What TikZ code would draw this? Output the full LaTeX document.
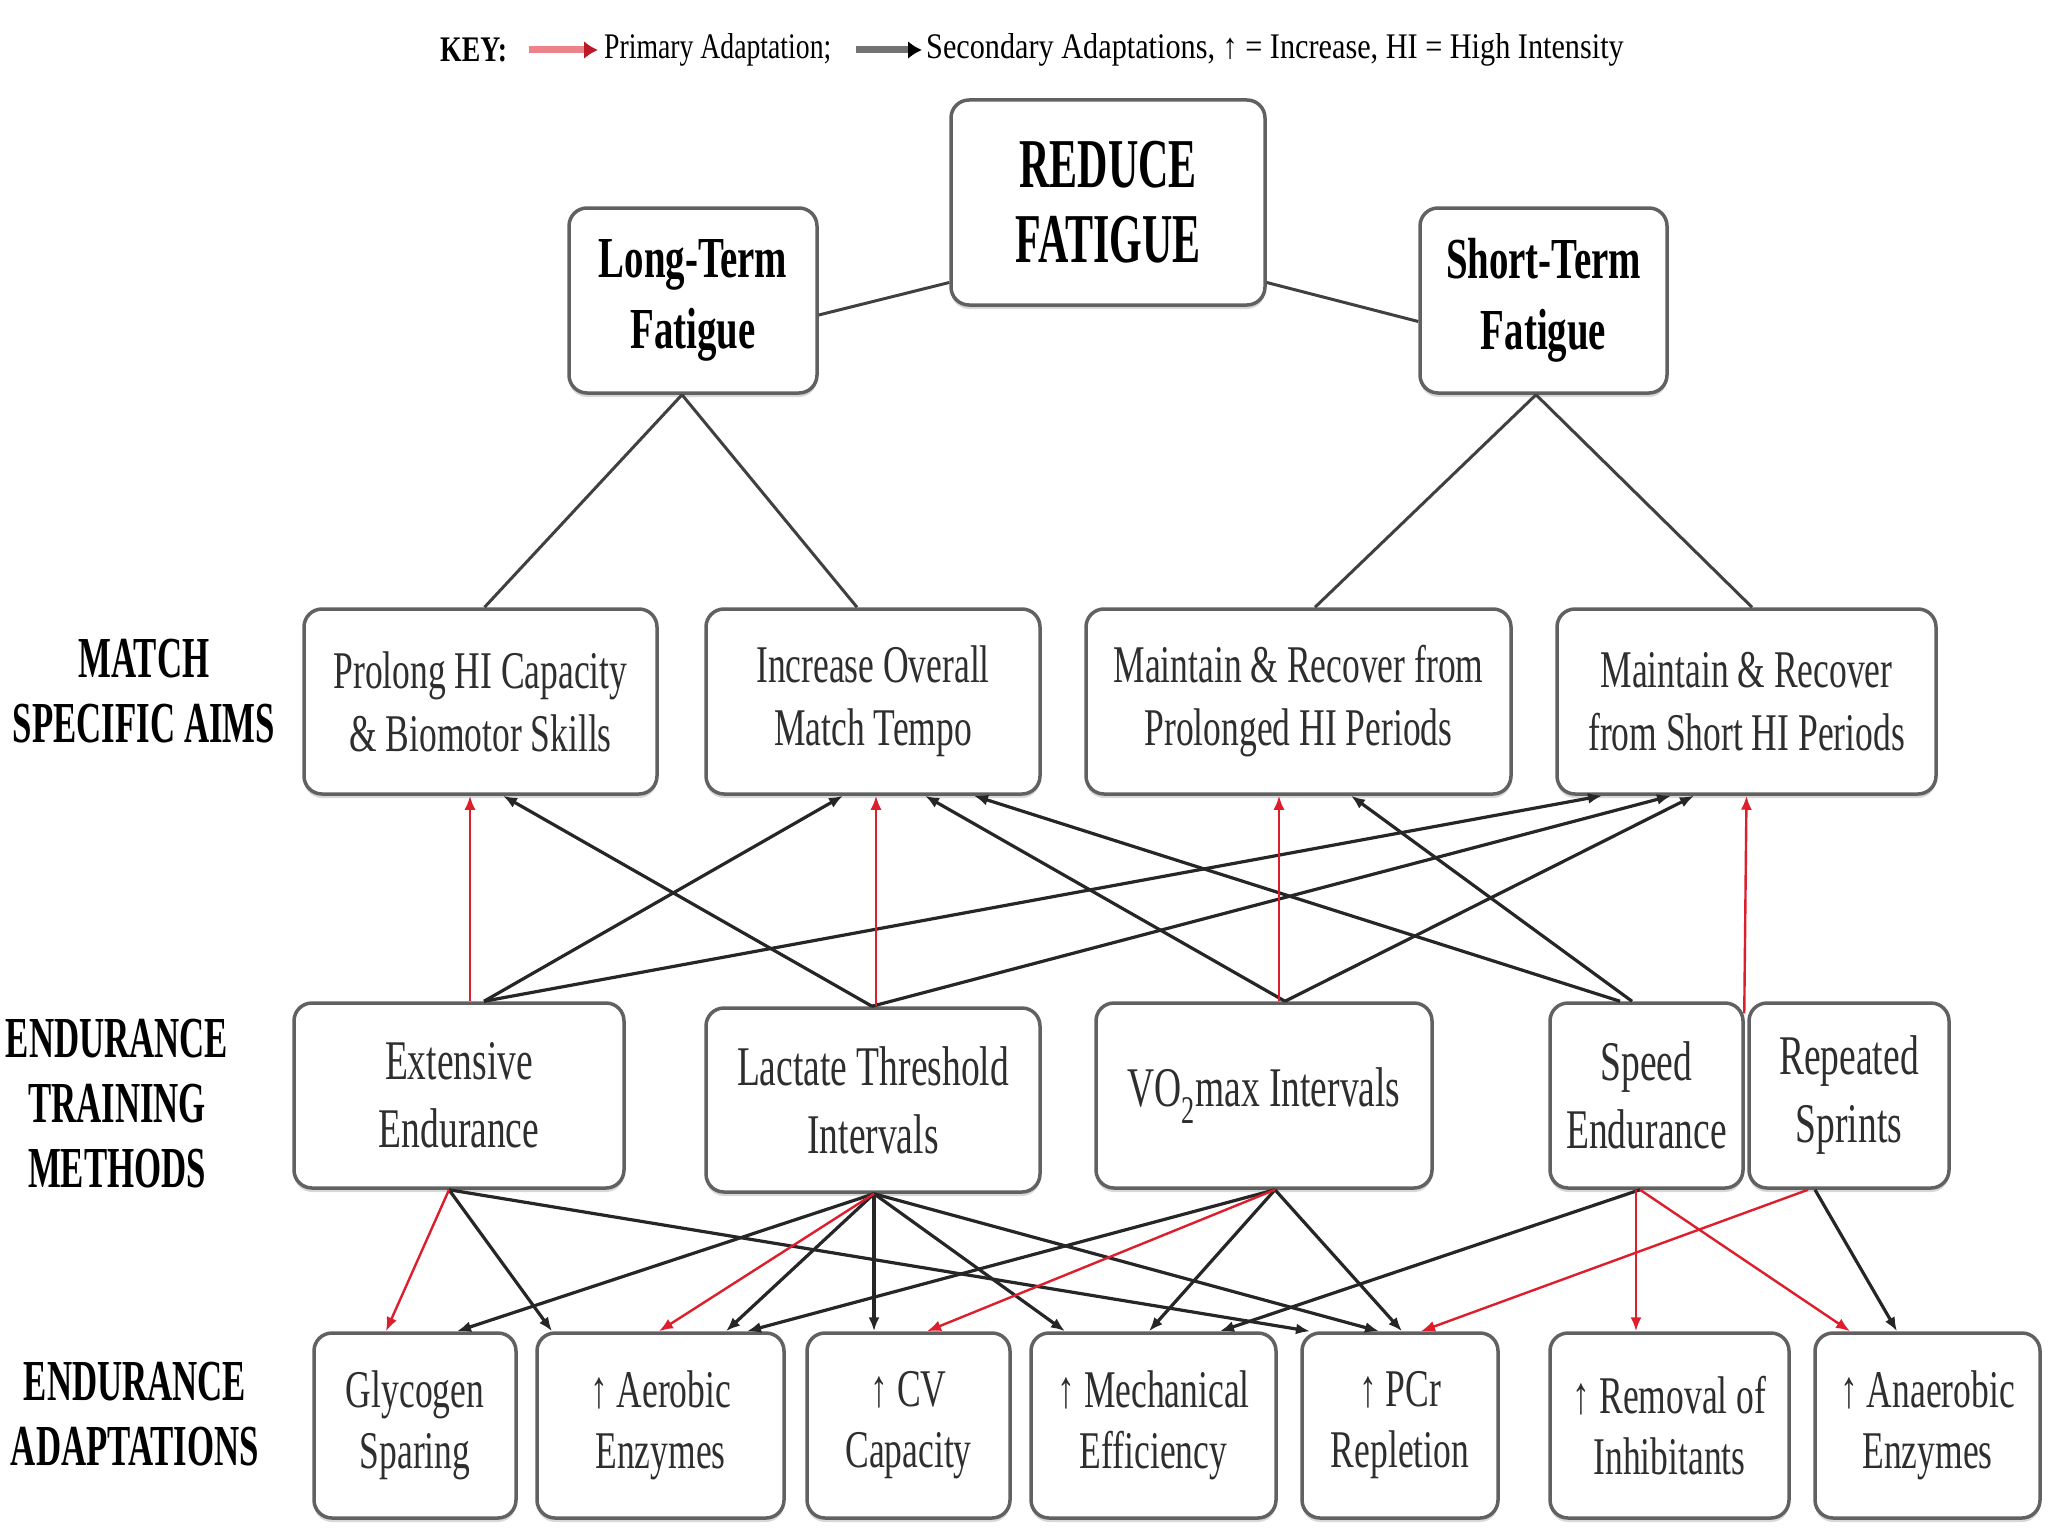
\documentclass[tikz,border=0pt]{standalone}
\usepackage{fontspec}
\setmainfont{Liberation Serif}[FakeStretch=0.67]
\newfontfamily\narrowfont{Liberation Serif}[FakeStretch=0.6]
\newfontfamily\keyfont{Liberation Serif}[FakeStretch=0.84]
\newfontfamily\keyfontb{Liberation Serif}[FakeStretch=0.77]
\usetikzlibrary{arrows.meta,shadows}
\definecolor{pred}{RGB}{220,30,45}
\begin{document}
\begin{tikzpicture}[x=1pt,y=-1pt,
  box/.style={draw=black!62, line width=3.5pt, rounded corners=18pt, fill=white, inner sep=0pt,
    align=center, text=black!82, drop shadow={shadow xshift=0pt, shadow yshift=-4pt, opacity=0.3}},
  r2/.style={box, font=\fontsize{53}{63}\selectfont, minimum height=185pt},
  r3/.style={box, font=\fontsize{56}{68}\selectfont, minimum height=185pt},
  r4/.style={box, font=\fontsize{53}{61}\selectfont, minimum height=185pt},
  topb/.style={box, font=\bfseries\fontsize{58}{71}\selectfont, text=black, minimum height=185pt},
  rowlbl/.style={font=\narrowfont\bfseries\fontsize{58}{65}\selectfont, align=center, inner sep=0pt},
  sec/.style={-{Latex[length=14pt,width=11pt]}, line width=3.2pt, draw=black!85},
  pri/.style={-{Latex[length=14pt,width=11pt]}, line width=2.4pt, draw=pred},
  link/.style={line width=3pt, draw=black!75},
  keytxt/.style={font=\keyfont\fontsize{36}{40}\selectfont, inner sep=0pt, anchor=west}
]
\fill[white] (0,0) rectangle (2048,1536);
\useasboundingbox (0,0) rectangle (2048,1536);

% key
\node[keytxt, font=\keyfontb\bfseries\fontsize{36}{40}\selectfont] (keylbl) at (440,50) {KEY:};
\coordinate (kr1) at (529,50); \coordinate (kr2) at (598,50);
\node[keytxt, font=\keyfontb\fontsize{36}{40}\selectfont] (keyp) at (604,50) {Primary Adaptation;};
\coordinate (kb1) at (856,50); \coordinate (kb2) at (922,50);
\node[keytxt] (keys) at (926,50) {Secondary Adaptations, ↑ = Increase, HI = High Intensity};
\draw[line width=7pt, draw=pred!55, -{Latex[length=14pt,width=18pt,color=pred!85!black]}] (kr1) -- (kr2);
\draw[line width=7pt, draw=black!55, -{Latex[length=14pt,width=18pt,color=black]}] (kb1) -- (kb2);

% top
\node[box, font=\narrowfont\bfseries\fontsize{70}{75}\selectfont, text=black, minimum width=314pt, minimum height=205pt] (reduce) at (1108,202.5) {REDUCE\\FATIGUE};
\node[topb, minimum width=248pt] (longt) at (693,300.5) {Long-Term\\Fatigue};
\node[topb, minimum width=247pt] (shortt) at (1543.5,300.5) {Short-Term\\Fatigue};

% row labels
\node[rowlbl] (lblA) at (144,691) {MATCH\\SPECIFIC AIMS};
\node[rowlbl] (lblB) at (117,1104) {ENDURANCE\\TRAINING\\METHODS};
\node[rowlbl] (lblC) at (135,1414) {ENDURANCE\\ADAPTATIONS};

% row 2
\node[r2, minimum width=353pt] (prolong) at (480.5,701.5) {Prolong HI Capacity\\\& Biomotor Skills};
\node[r2, minimum width=334pt] (increase) at (873,701.5) {Increase Overall\\Match Tempo};
\node[r2, minimum width=425pt] (maintp) at (1298.5,701.5) {Maintain \& Recover from\\Prolonged HI Periods};
\node[r2, minimum width=379pt] (maints) at (1746.5,701.5) {Maintain \& Recover\\from Short HI Periods};

% row 3
\node[r3, minimum width=330pt] (extensive) at (459,1095.5) {Extensive\\Endurance};
\node[r3, minimum width=334pt, minimum height=184pt] (lactate) at (873,1100) {Lactate Threshold\\Intervals};
\node[r3, minimum width=336pt] (vo2) at (1264,1095.5) {VO\textsubscript{2}max Intervals};
\node[r3, minimum width=193pt] (speed) at (1646.5,1095.5) {Speed\\Endurance};
\node[r3, minimum width=200pt] (repeated) at (1849,1095.5) {Repeated\\Sprints};

% row 4
\node[r4, minimum width=202pt] (glyc) at (415,1425.5) {Glycogen\\Sparing};
\node[r4, minimum width=247pt] (aerobic) at (660.5,1425.5) {↑ Aerobic\\Enzymes};
\node[r4, minimum width=203pt] (cv) at (908.5,1425.5) {↑ CV\\Capacity};
\node[r4, minimum width=245pt] (mech) at (1153.5,1425.5) {↑ Mechanical\\Efficiency};
\node[r4, minimum width=196pt] (pcr) at (1400,1425.5) {↑ PCr\\Repletion};
\node[r4, minimum width=239pt] (removal) at (1669.5,1425.5) {↑ Removal of\\Inhibitants};
\node[r4, minimum width=225pt] (anaer) at (1927.5,1425.5) {↑ Anaerobic\\Enzymes};

% top links
\draw[link] ([yshift=-80pt]reduce.west) -- ([yshift=-14.5pt]longt.east);
\draw[link] ([yshift=-80pt]reduce.east) -- ([yshift=-21pt]shortt.west);
\draw[link] ([xshift=-11pt]longt.south) -- ([xshift=4pt]prolong.north);
\draw[link] ([xshift=-11pt]longt.south) -- ([xshift=-16pt]increase.north);
\draw[link] ([xshift=-7.5pt]shortt.south) -- ([xshift=16.5pt]maintp.north);
\draw[link] ([xshift=-7.5pt]shortt.south) -- ([xshift=5.5pt]maints.north);

% methods -> aims
\draw[sec] ([xshift=-1pt]lactate.north) -- ([xshift=22.5pt]prolong.south);
\draw[sec] ([xshift=25pt]extensive.north) -- ([xshift=-30pt]increase.south);
\draw[sec] ([xshift=21pt]vo2.north) -- ([xshift=52pt]increase.south);
\draw[sec] ([xshift=-26.5pt]speed.north) -- ([xshift=101pt]increase.south);
\draw[sec] ([xshift=-14.5pt]speed.north) -- ([xshift=52.5pt]maintp.south);
\draw[sec] ([xshift=25pt]extensive.north) -- ([xshift=-144.5pt]maints.south);
\draw[sec] ([xshift=-1pt]lactate.north) -- ([xshift=-75.5pt]maints.south);
\draw[sec] ([xshift=21pt]vo2.north) -- ([xshift=-52.5pt]maints.south);
\draw[pri] ([xshift=11pt]extensive.north) -- ([xshift=-10.5pt]prolong.south);
\draw[pri] ([xshift=3pt]lactate.north) -- ([xshift=3pt]increase.south);
\draw[pri] ([xshift=15pt]vo2.north) -- ([xshift=-19.5pt]maintp.south);
\draw[pri] ([xshift=-3pt,yshift=-12pt]repeated.north west) -- (maints.south);

% methods -> adaptations
\draw[sec] ([xshift=-10pt]extensive.south) -- ([xshift=-108.5pt]aerobic.north);
\draw[sec] ([xshift=-10pt]extensive.south) -- ([xshift=-90pt]pcr.north);
\draw[sec] ([xshift=1pt]lactate.south) -- ([xshift=42pt]glyc.north);
\draw[sec] ([xshift=1pt]lactate.south) -- ([xshift=65.5pt]aerobic.north);
\draw[sec] ([xshift=1pt]lactate.south) -- ([xshift=-34.5pt]cv.north);
\draw[sec] ([xshift=1pt]lactate.south) -- ([xshift=-88.5pt]mech.north);
\draw[sec] ([xshift=1pt]lactate.south) -- ([xshift=-21pt]pcr.north);
\draw[sec] ([xshift=11pt]vo2.south) -- ([xshift=86.5pt]aerobic.north);
\draw[sec] ([xshift=11pt]vo2.south) -- ([xshift=-4.5pt]mech.north);
\draw[sec] ([xshift=11pt]vo2.south) -- ([xshift=2pt]pcr.north);
\draw[sec] ([xshift=-6.5pt]speed.south) -- ([xshift=66.5pt]mech.north);
\draw[sec] ([xshift=-34pt]repeated.south) -- ([xshift=-30.5pt]anaer.north);
\draw[pri] ([xshift=-10pt]extensive.south) -- ([xshift=-29pt]glyc.north);
\draw[pri] ([xshift=1pt]lactate.south) -- ([xshift=-1.5pt]aerobic.north);
\draw[pri] ([xshift=11pt]vo2.south) -- ([xshift=18.5pt]cv.north);
\draw[pri] ([xshift=-10.5pt]speed.south) -- ([xshift=-33.5pt]removal.north);
\draw[pri] ([xshift=-6.5pt]speed.south) -- ([xshift=-77.5pt]anaer.north);
\draw[pri] ([xshift=-41pt]repeated.south) -- ([xshift=21pt]pcr.north);
\end{tikzpicture}
\end{document}
